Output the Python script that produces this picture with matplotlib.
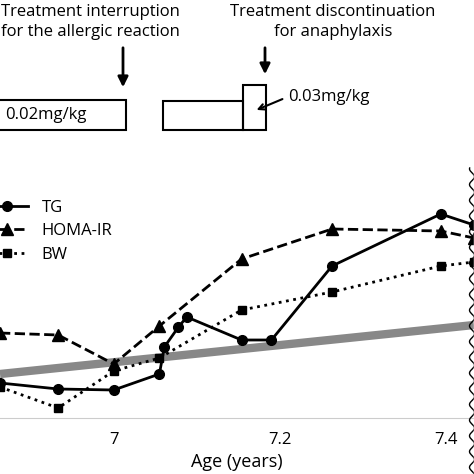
import numpy as np
import matplotlib
matplotlib.use("Agg")
import matplotlib.pyplot as plt
from matplotlib.patches import Rectangle

plt.rcParams['font.family'] = ['Open Sans', 'DejaVu Sans']

tg_x = [6.863, 6.933, 7.0, 7.055, 7.061, 7.078, 7.088, 7.154, 7.190, 7.263, 7.394, 7.434]
tg_y = [35, 29, 28, 44, 71, 91, 101, 78, 78, 152, 204, 193]
homa_x = [6.863, 6.933, 7.0, 7.055, 7.154, 7.263, 7.394, 7.434]
homa_y = [85, 83, 54, 92, 159, 189, 187, 180]
bw_x = [6.863, 6.933, 7.0, 7.055, 7.154, 7.263, 7.394, 7.434]
bw_y = [31, 10, 47, 60, 108, 126, 152, 156]
ref_x = [6.863, 7.434]
ref_y = [44, 93]
xticks = [7.0, 7.2, 7.4]
xticklabels = ['7', '7.2', '7.4']

fig = plt.figure(figsize=(4.74, 4.74), dpi=100)
ax = fig.add_axes([0, 56/474, 1, 238/474])
ax.set_xlim(6.863, 7.434)
ax.set_ylim(0, 238)
ax.plot(ref_x, ref_y, color='#888888', lw=6, solid_capstyle='butt', zorder=1)
ax.plot(tg_x, tg_y, '-', color='black', lw=2, marker='o', ms=7, label='TG', clip_on=True)
ax.plot(homa_x, homa_y, '--', color='black', lw=2, marker='^', ms=8, label='HOMA-IR')
ax.plot(bw_x, bw_y, ':', color='black', lw=2, marker='s', ms=6, label='BW')
for s in ['top', 'right', 'left']:
    ax.spines[s].set_visible(False)
ax.spines['bottom'].set_color('#cccccc')
ax.set_yticks([])
ax.set_xticks(xticks)
ax.set_xticklabels(xticklabels, fontsize=12)
ax.tick_params(axis='x', length=0, pad=10)
ax.set_xlabel('Age (years)', fontsize=13, labelpad=4)
leg = ax.legend(loc='upper left', bbox_to_anchor=(-0.06, 0.98), frameon=False,
                fontsize=12, handlelength=2.5, labelspacing=0.45)

ov = fig.add_axes([0, 0, 1, 1], facecolor='none')
ov.set_xlim(0, 474)
ov.set_ylim(474, 0)
ov.axis('off')
ov.text(90, 12, 'Treatment interruption', ha='center', va='center', fontsize=12)
ov.text(90, 32, 'for the allergic reaction', ha='center', va='center', fontsize=12)
ov.text(333, 12, 'Treatment discontinuation', ha='center', va='center', fontsize=12)
ov.text(333, 32, 'for anaphylaxis', ha='center', va='center', fontsize=12)
ov.annotate('', xy=(123, 90), xytext=(123, 45),
            arrowprops=dict(arrowstyle='-|>', color='black', lw=2, mutation_scale=15))
ov.annotate('', xy=(265, 77), xytext=(265, 45),
            arrowprops=dict(arrowstyle='-|>', color='black', lw=2, mutation_scale=15))
ov.add_patch(Rectangle((-5, 100), 131, 30, fill=False, lw=1.5, ec='black'))
ov.text(5, 115, '0.02mg/kg', va='center', fontsize=12)
ov.add_patch(Rectangle((163, 101), 80, 29, fill=False, lw=1.5, ec='black'))
ov.add_patch(Rectangle((243, 85), 23, 45, fill=False, lw=1.5, ec='black'))
ov.text(288, 97, '0.03mg/kg', va='center', fontsize=12)
ov.annotate('', xy=(254, 111), xytext=(285, 98),
            arrowprops=dict(arrowstyle='->', color='black', lw=1.5, mutation_scale=10))
yy = np.linspace(168, 474, 400)
ov.plot(472 + 2.5*np.sin(yy/2.5), yy, color='black', lw=1)
ov.add_patch(Rectangle((474.5, 168), 10, 306, color='white', zorder=3))

fig.savefig('out.png', dpi=100)
